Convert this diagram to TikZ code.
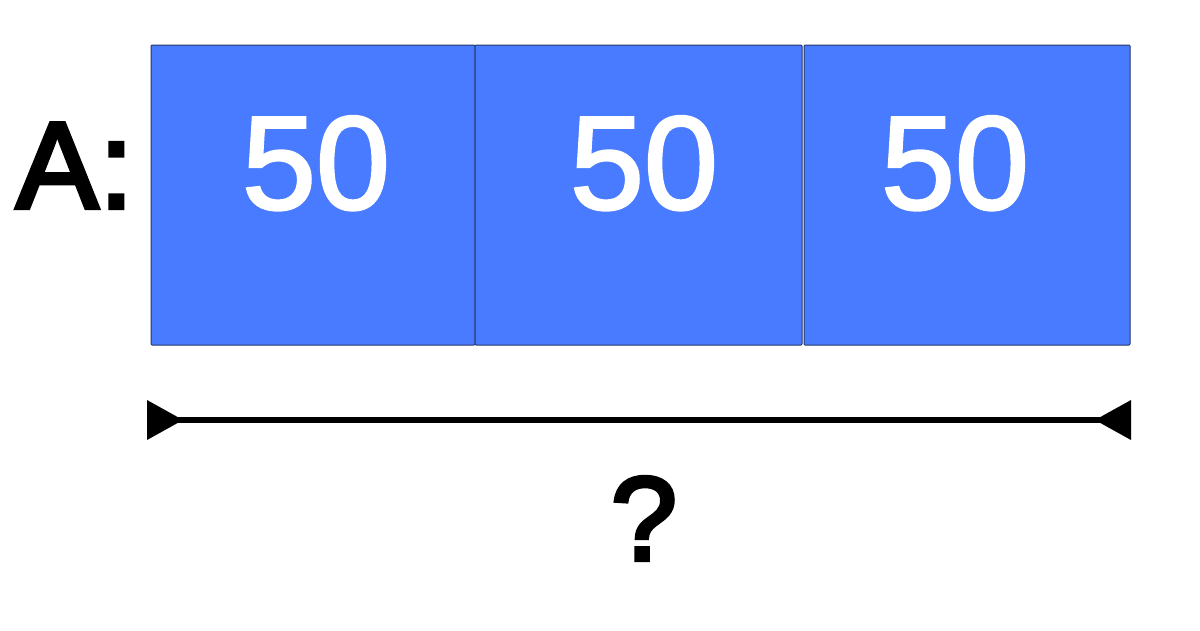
\documentclass[tikz,border=0pt]{standalone}
\usepackage{fontspec}
\setmainfont{Liberation Sans}
\newfontfamily\numfont{Liberation Sans}[FakeBold=2]
\newfontfamily\lblfont{Liberation Sans}[FakeBold=3.5]
\definecolor{boxblue}{HTML}{487BFF}
\definecolor{boxline}{HTML}{253766}
\begin{document}
\begin{tikzpicture}[x=1pt,y=-1pt,
  blk/.style={fill=boxblue,draw=boxline,line width=1pt,rounded corners=1pt},
  num/.style={anchor=base,text=white,font=\numfont\fontsize{133}{133}\selectfont,inner sep=0pt},
  lbl/.style={inner sep=0pt,font=\lblfont\fontsize{123}{123}\selectfont},
  dimline/.style={line width=6.5pt},
  tipfill/.style={fill=black}]
\useasboundingbox (0,0) rectangle (1200,630);
\draw[blk] (151,45) rectangle (475,345);
\draw[blk] (475,45) rectangle (802,345);
\draw[blk] (804,45) rectangle (1130,345);
\node[num] (n1) at (316,209) {50};
\node[num] (n2) at (644,209) {50};
\node[num] (n3) at (955,209) {50};
\node[lbl,anchor=base west] (a) at (16,208) {A\kern1pt:};
\coordinate (L) at (147,420);
\coordinate (R) at (1131,420);
\draw[dimline] (L) -- (R);
\fill[tipfill] (L) ++(0,-20) -- ++(0,40) -- ++(36,-20) -- cycle;
\fill[tipfill] (R) ++(0,-20) -- ++(0,40) -- ++(-36,-20) -- cycle;
\node[lbl,anchor=base,font=\lblfont\fontsize{119}{119}\selectfont] (q) at (644,560) {?};
\end{tikzpicture}
\end{document}
